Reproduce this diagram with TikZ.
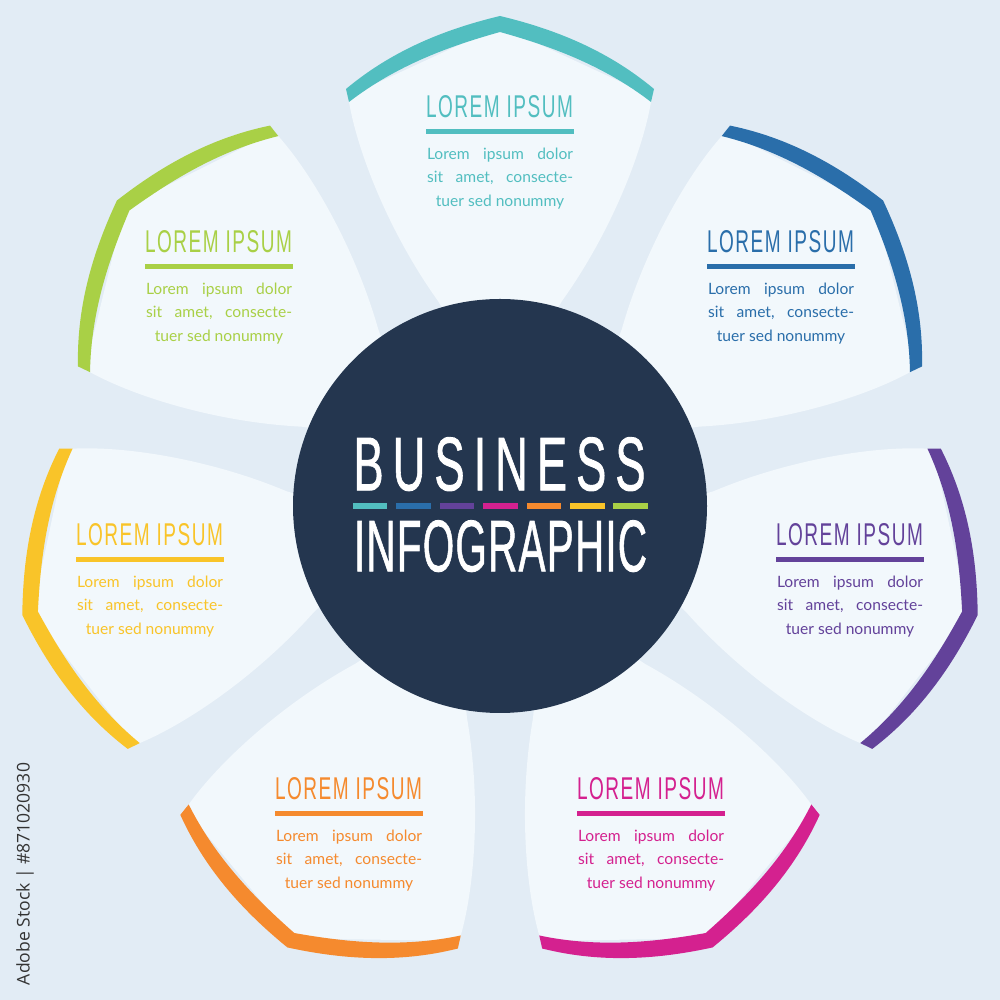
\documentclass[tikz,border=0pt]{standalone}
\usepackage{fontspec}
\usepackage{graphicx}
\setmainfont{Lato}
\newfontfamily\headfont{Liberation Sans}[LetterSpace=8]
\newfontfamily\bigfont{Liberation Sans}[LetterSpace=20,FakeBold=1.2]
\newfontfamily\bigtightfont{Liberation Sans}[LetterSpace=3,FakeBold=1.2]
\newfontfamily\bodyfont{Lato}
\newfontfamily\stampfont{Open Sans}
\definecolor{cbg}{HTML}{E2ECF5}
\definecolor{cpetal}{HTML}{F2F8FC}
\definecolor{cnavy}{HTML}{24364F}
\definecolor{cteal}{HTML}{52BEC0}
\definecolor{cblue}{HTML}{2A6EAA}
\definecolor{cpurple}{HTML}{63429A}
\definecolor{cmagenta}{HTML}{D4218F}
\definecolor{corange}{HTML}{F58A2E}
\definecolor{cyellow}{HTML}{F9C429}
\definecolor{cgreen}{HTML}{A9D046}
\newcommand{\fitted}[4]{\resizebox{#1pt}{#2pt}{#3#4}}
\tikzset{
  txt/.style={inner sep=0,outer sep=0}
}
\begin{document}
\begin{tikzpicture}[x=1pt,y=1pt]
\useasboundingbox (0,0) rectangle (1000,1000);
\fill[cbg] (0,0) rectangle (1000,1000);
% petals, clockwise from the top
\foreach \i/\c in {0/cteal,1/cblue,2/cpurple,3/cmagenta,4/corange,5/cyellow,6/cgreen}{
  \begin{scope}[shift={(500,494)},rotate={-\i*360/7}]
    \fill[cpetal] (-151,404) .. controls (-142,352) and (-110,272) .. (-62,205)
      -- (0,100) -- (62,205) .. controls (110,272) and (142,352) .. (151,404)
      -- (151,410) -- (0,480) -- (-151,410) -- cycle;
    \fill[\c] (0,490) .. controls (50,478) and (105,458) .. (154,417)
      -- (151,404) .. controls (103,441) and (50,460) .. (0,474)
      .. controls (-50,460) and (-103,441) .. (-151,404)
      -- (-154,417) .. controls (-105,458) and (-50,478) .. (0,490) -- cycle;
  \end{scope}
}
\begin{scope}[yshift=1000pt,y=-1pt]
  \node[circle,fill=cnavy,minimum size=414pt,inner sep=0,outer sep=0] (hub) at (500,506) {};
  % centre title
  \node[txt,anchor=south west,text=white] (business) at (353.5,491)
    {\fitted{292}{53}{\bigfont}{BUSINESS}};
  \node[txt,anchor=south west,text=white] (infographic) at (354,572)
    {\fitted{293}{51}{\bigtightfont}{INFOGRAPHIC}};
  \foreach \x/\c in {352.5/cteal,396/cblue,439.5/cpurple,483/cmagenta,526.5/corange,570/cyellow,613/cgreen}
    \fill[\c] (\x,503) rectangle ++(34.5,6);
  % text blocks
  \foreach \n/\x/\y/\c in {a/426/107/cteal,b/707/242/cblue,c/776/535/cpurple,d/577/789/cmagenta,e/275/789/corange,f/76/535/cyellow,g/145/242/cgreen}{
    \node[txt,anchor=west,text=\c] (head\n) at (\x,\y)
      {\fitted{147}{22}{\headfont}{LOREM IPSUM}};
    \fill[\c] (\x,\y+22.5) rectangle ++(148,4.2);
    \node[txt,anchor=base west,text=\c] (one\n) at (\x+1,\y+52.5)
      {\fontsize{15.6}{18}\bodyfont\makebox[146pt][s]{Lorem\hfill ipsum\hfill dolor}};
    \node[txt,anchor=base west,text=\c] (two\n) at (\x+1,\y+76)
      {\fontsize{15.6}{18}\bodyfont\makebox[146pt][s]{sit\hfill amet,\hfill consecte-}};
    \node[txt,anchor=base,text=\c] (three\n) at (\x+74,\y+99.5)
      {\fontsize{15.6}{18}\bodyfont tuer sed nonummy};
  }
  \node[txt,anchor=base west,rotate=90,text=black!80] (stamp) at (29.5,985)
    {\resizebox{222pt}{!}{\stampfont Adobe Stock | \#871020930}};
\end{scope}
\end{tikzpicture}
\end{document}
